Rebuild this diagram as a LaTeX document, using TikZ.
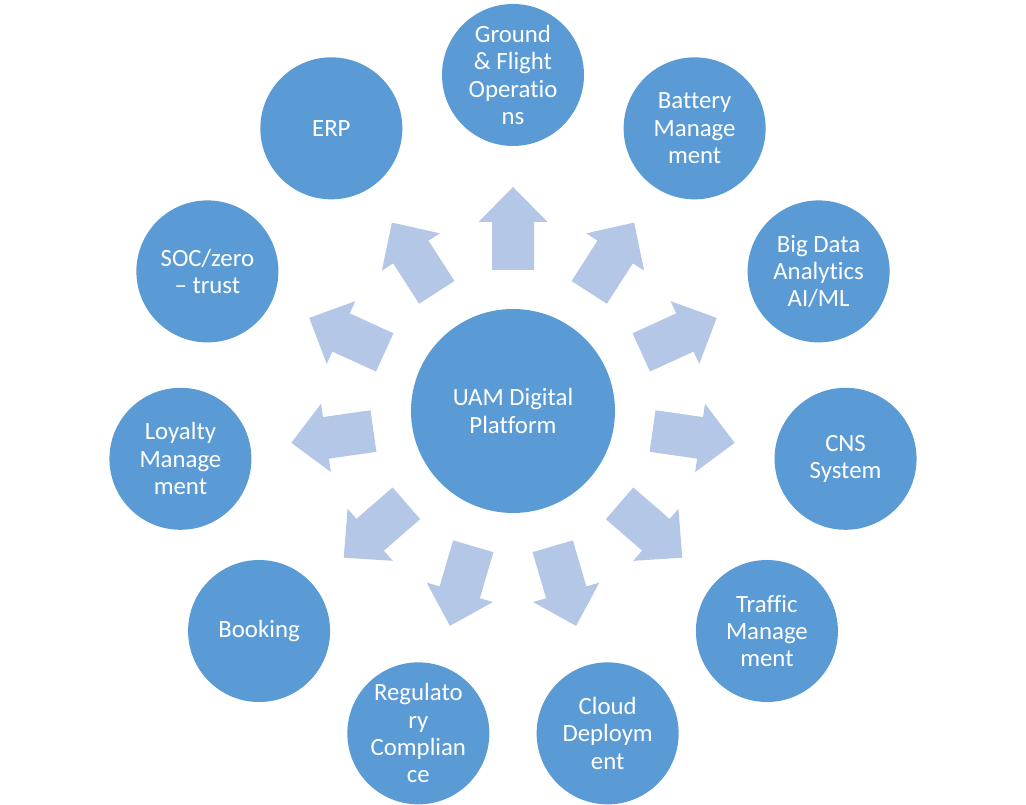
\documentclass[tikz,border=0pt]{standalone}
\usepackage{fontspec}
\setmainfont{Carlito}[Ligatures={NoCommon}]
\usetikzlibrary{calc}
\definecolor{hubblue}{HTML}{5B9BD5}
\definecolor{arrowblue}{HTML}{B4C7E7}
\begin{document}
\begin{tikzpicture}[x=0.75pt,y=0.75pt,
  hub/.style={circle,fill=hubblue,draw=none,text=white,align=center,
    font=\fontsize{18.6}{20.5}\selectfont,inner sep=0pt},
  spoke/.style={fill=arrowblue,draw=none}]
  \useasboundingbox (0,0) rectangle (1026,805);
  \coordinate (c) at (513,394);
  % central platform (diameter 204 units)
  \node[hub,minimum size=153pt] (core) at (c) {UAM Digital\\Platform};
  % surrounding capabilities, clockwise from the top (diameter 142 units)
  \foreach \i/\txt in {0/{Ground\\\& Flight\\Operatio\\ns},
                       1/{Battery\\Manage\\ment},
                       2/{Big Data\\Analytics\\AI/ML},
                       3/{CNS\\System},
                       4/{Traffic\\Manage\\ment},
                       5/{Cloud\\Deploym\\ent},
                       6/{Regulato\\ry\\Complian\\ce},
                       7/{Booking},
                       8/{Loyalty\\Manage\\ment},
                       9/{SOC/zero\\– trust},
                       10/{ERP}}{
    \pgfmathsetmacro{\ang}{90-\i*360/11}
    \node[hub,minimum size=106.5pt] (o\i) at ($(c)+(\ang:336)$) {\txt};
    % block arrow pointing from the platform towards the capability
    \begin{scope}[shift={(c)},rotate=\ang]
      \fill[spoke] (141,-21) -- (189,-21) -- (189,-34.5) -- (224,0)
        -- (189,34.5) -- (189,21) -- (141,21) -- cycle;
    \end{scope}
  }
\end{tikzpicture}
\end{document}
